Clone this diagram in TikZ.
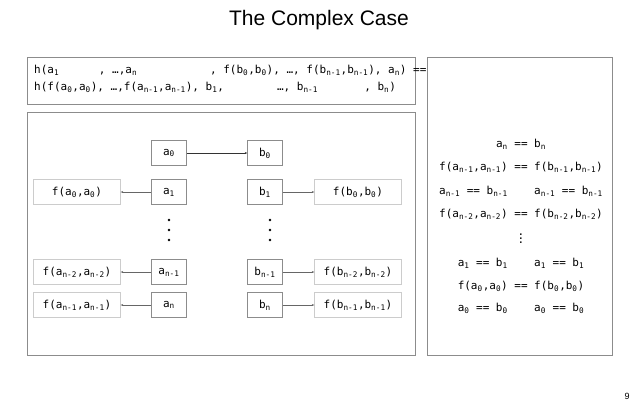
\documentclass[tikz,border=0pt]{standalone}
\usepackage{fontspec}
\usetikzlibrary{arrows.meta}
\setmainfont{Liberation Sans}
\newfontfamily\mono{DejaVu Sans Mono}
\newcommand\sbs[1]{\textsubscript{#1}}
\begin{document}
\begin{tikzpicture}[x=1pt,y=-1pt,
  frame/.style={draw=black!45,line width=0.6pt},
  vbox/.style={draw=black!45,fill=white,minimum width=35pt,minimum height=25pt,font=\mono\fontsize{11}{12}\selectfont,inner sep=1pt},
  fbox/.style={draw=black!20,fill=white,minimum width=87pt,minimum height=25pt,font=\mono\fontsize{11}{12}\selectfont,inner sep=1pt},
  arr/.style={draw=black!60,line width=0.5pt,-{Stealth[length=2.5pt,width=2pt]}},
  dot/.style={circle,fill=black,inner sep=0pt,minimum size=2.6pt},
  eq/.style={font=\mono\fontsize{11}{12}\selectfont,inner sep=0pt}]
\useasboundingbox (0,0) rectangle (638,415);
\node[font=\fontsize{21}{24}\selectfont] (title) at (319,20) {The Complex Case};
\draw[frame] (27,57) rectangle (415,104);
\draw[frame] (27,112) rectangle (415,355);
\draw[frame] (427,57) rectangle (612,355);
\node[anchor=north west,align=left,font=\mono\fontsize{11}{17}\selectfont,inner sep=0pt] (top) at (34,65)
 {h(a\sbs{1}\ \ \ \ \ \ , …,a\sbs{n}\ \ \ \ \ \ \ \ \ \ \ , f(b\sbs{0},b\sbs{0}), …, f(b\sbs{n-1},b\sbs{n-1}), a\sbs{n}) ==\\
  h(f(a\sbs{0},a\sbs{0}), …,f(a\sbs{n-1},a\sbs{n-1}), b\sbs{1},\ \ \ \ \ \ \ \ …, b\sbs{n-1}\ \ \ \ \ \ \ , b\sbs{n})};
\node[vbox] (a0) at (169,153) {a\sbs{0}};
\node[vbox] (b0) at (265,153) {b\sbs{0}};
\node[vbox] (a1) at (169,192) {a\sbs{1}};
\node[vbox] (b1) at (265,192) {b\sbs{1}};
\node[vbox] (an1) at (169,272) {a\sbs{n-1}};
\node[vbox] (bn1) at (265,272) {b\sbs{n-1}};
\node[vbox] (an) at (169,305) {a\sbs{n}};
\node[vbox] (bn) at (265,305) {b\sbs{n}};
\node[fbox] (fa0) at (77,192) {f(a\sbs{0},a\sbs{0})};
\node[fbox] (fan2) at (77,272) {f(a\sbs{n-2},a\sbs{n-2})};
\node[fbox] (fan1) at (77,305) {f(a\sbs{n-1},a\sbs{n-1})};
\node[fbox] (fb0) at (358,192) {f(b\sbs{0},b\sbs{0})};
\node[fbox] (fbn2) at (358,272) {f(b\sbs{n-2},b\sbs{n-2})};
\node[fbox] (fbn1) at (358,305) {f(b\sbs{n-1},b\sbs{n-1})};
\draw[arr,draw=black!80] (a0) -- (b0);
\draw[arr] (a1) -- (fa0);
\draw[arr] (an1) -- (fan2);
\draw[arr] (an) -- (fan1);
\draw[arr] (b1) -- (fb0);
\draw[arr] (bn1) -- (fbn2);
\draw[arr] (bn) -- (fbn1);
\node[dot] (d1) at (169,220) {}; \node[dot] (d2) at (169,230) {}; \node[dot] (d3) at (169,240) {};
\node[dot] (e1) at (270,220) {}; \node[dot] (e2) at (270,230) {}; \node[dot] (e3) at (270,240) {};
\node[eq] (r1) at (521,144) {a\sbs{n} == b\sbs{n}};
\node[eq] (r2) at (521,167) {f(a\sbs{n-1},a\sbs{n-1}) == f(b\sbs{n-1},b\sbs{n-1})};
\node[eq] (r3) at (521,191) {a\sbs{n-1} == b\sbs{n-1}\ \ \ \ a\sbs{n-1} == b\sbs{n-1}};
\node[eq] (r4) at (521,214) {f(a\sbs{n-2},a\sbs{n-2}) == f(b\sbs{n-2},b\sbs{n-2})};
\node[eq] (r5) at (521,236) {$\vdots$};
\node[eq] (r6) at (521,263) {a\sbs{1} == b\sbs{1}\ \ \ \ a\sbs{1} == b\sbs{1}};
\node[eq] (r7) at (521,286) {f(a\sbs{0},a\sbs{0}) == f(b\sbs{0},b\sbs{0})};
\node[eq] (r8) at (521,308) {a\sbs{0} == b\sbs{0}\ \ \ \ a\sbs{0} == b\sbs{0}};
\node[font=\fontsize{9}{10}\selectfont] (pg) at (627,396) {9};
\end{tikzpicture}
\end{document}
